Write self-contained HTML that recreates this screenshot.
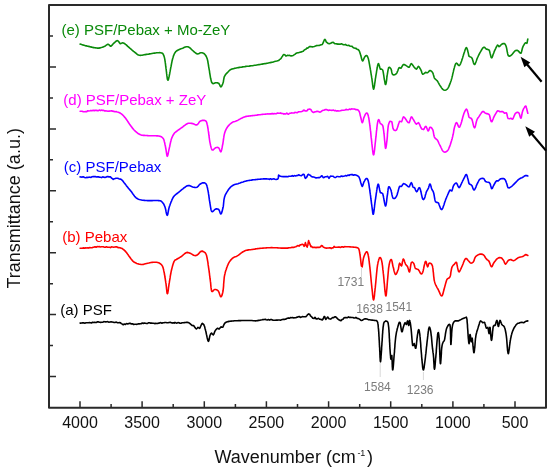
<!DOCTYPE html>
<html><head><meta charset="utf-8"><style>html,body{margin:0;padding:0;background:#fff;width:550px;height:471px;overflow:hidden}</style></head>
<body><svg width="550" height="471" viewBox="0 0 550 471" style="display:block">
<rect x="0" y="0" width="550" height="471" fill="#fff"/>
<rect x="49" y="5" width="497" height="402.8" fill="none" stroke="#2a2a2a" stroke-width="2" stroke-linejoin="round"/>
<path d="M80.0,407.5V401.2 M142.1,407.5V401.2 M204.3,407.5V401.2 M266.4,407.5V401.2 M328.6,407.5V401.2 M390.7,407.5V401.2 M452.9,407.5V401.2 M515.0,407.5V401.2 M111.1,407.5V404 M173.2,407.5V404 M235.4,407.5V404 M297.5,407.5V404 M359.7,407.5V404 M421.8,407.5V404 M483.9,407.5V404 M49,376.5H56 M49,345.6H53 M49,314.6H56 M49,283.7H53 M49,252.7H56 M49,221.7H53 M49,190.8H56 M49,159.8H53 M49,128.9H56 M49,97.9H53 M49,66.9H56 M49,36.0H53" stroke="#2a2a2a" stroke-width="1.5" fill="none"/>
<text transform="translate(80.0,428.3) scale(1,1)" font-family='"Liberation Sans", Arial, sans-serif' font-size="16" text-anchor="middle" fill="#111">4000</text>
<text transform="translate(142.1,428.3) scale(1,1)" font-family='"Liberation Sans", Arial, sans-serif' font-size="16" text-anchor="middle" fill="#111">3500</text>
<text transform="translate(204.3,428.3) scale(1,1)" font-family='"Liberation Sans", Arial, sans-serif' font-size="16" text-anchor="middle" fill="#111">3000</text>
<text transform="translate(266.4,428.3) scale(1,1)" font-family='"Liberation Sans", Arial, sans-serif' font-size="16" text-anchor="middle" fill="#111">2500</text>
<text transform="translate(328.6,428.3) scale(1,1)" font-family='"Liberation Sans", Arial, sans-serif' font-size="16" text-anchor="middle" fill="#111">2000</text>
<text transform="translate(390.7,428.3) scale(1,1)" font-family='"Liberation Sans", Arial, sans-serif' font-size="16" text-anchor="middle" fill="#111">1500</text>
<text transform="translate(452.9,428.3) scale(1,1)" font-family='"Liberation Sans", Arial, sans-serif' font-size="16" text-anchor="middle" fill="#111">1000</text>
<text transform="translate(515.0,428.3) scale(1,1)" font-family='"Liberation Sans", Arial, sans-serif' font-size="16" text-anchor="middle" fill="#111">500</text>
<text transform="translate(214.5,463.1)" font-family='"Liberation Sans", Arial, sans-serif' font-size="18" fill="#111">Wavenumber (cm<tspan dx="1.5" dy="-7.5" font-size="9">-1</tspan><tspan dx="1.5" dy="7.5">)</tspan></text>
<text transform="translate(20,288.5) rotate(-90)" x="0" y="0" font-family='"Liberation Sans", Arial, sans-serif' font-size="18" fill="#111">Transmittance (a.u.)</text>
<polyline points="80.1,323.1 80.7,323.1 81.6,323.0 82.5,322.9 83.6,322.8 84.8,323.2 86.0,322.8 87.3,322.8 88.4,322.8 89.5,322.6 90.5,322.8 91.5,323.0 92.6,322.2 93.6,322.5 94.6,322.2 95.6,322.5 96.6,322.4 97.6,321.8 98.6,321.9 99.6,322.2 100.7,322.4 101.7,322.3 102.7,322.3 103.8,321.6 104.8,321.7 105.8,321.9 106.8,321.7 107.7,321.6 108.9,322.2 110.0,322.0 111.1,321.8 112.2,322.0 113.2,322.2 114.1,322.4 115.0,322.5 116.3,322.1 117.5,322.8 118.5,322.7 119.5,322.5 120.5,322.8 121.4,323.6 122.2,324.0 123.2,324.8 124.3,324.0 125.5,324.4 126.6,323.5 127.7,323.9 129.0,323.4 130.1,323.2 131.4,324.0 132.5,323.7 133.6,324.5 134.7,324.2 135.9,324.3 137.0,324.4 138.0,323.9 139.2,323.9 140.5,323.8 141.4,323.6 142.3,323.0 143.3,323.5 144.3,323.0 145.4,323.2 146.5,323.5 147.7,323.4 148.6,322.7 149.6,322.7 150.6,323.3 151.6,323.0 152.7,323.3 153.7,323.2 154.7,323.6 155.8,323.4 156.8,323.5 157.8,323.4 158.8,323.1 159.8,322.9 160.8,322.6 161.9,323.2 162.9,322.8 163.9,322.8 164.9,322.5 165.9,322.5 166.9,322.7 168.0,322.8 169.1,322.5 170.2,322.3 171.3,322.7 172.3,323.1 173.3,322.7 174.2,323.1 175.0,322.4 176.3,323.1 177.1,323.0 177.9,322.6 179.1,322.8 180.0,323.3 181.0,323.2 182.1,322.8 183.3,322.7 184.4,322.6 185.5,322.5 186.5,322.4 187.3,322.4 189.0,322.8 190.0,323.6 191.1,324.6 192.0,325.4 193.6,325.6 194.8,327.2 195.6,328.3 196.4,329.0 197.2,328.2 198.0,327.3 199.6,328.4 200.1,327.7 200.5,326.6 201.0,325.5 201.7,324.1 202.4,323.3 203.8,324.6 204.1,325.4 204.5,326.3 204.8,327.4 205.1,328.7 205.5,330.0 205.7,330.9 206.0,332.0 206.2,333.1 206.4,334.2 206.7,335.4 206.9,336.4 207.1,337.4 207.3,338.2 207.7,339.9 208.1,341.1 208.5,341.3 208.8,340.7 209.1,339.5 209.4,338.0 209.7,336.6 210.0,335.5 210.7,333.8 211.5,333.1 212.4,334.1 213.3,334.9 213.7,334.3 214.2,333.2 214.6,331.9 215.1,330.9 215.9,329.8 216.8,328.8 217.6,328.2 219.1,329.1 220.0,328.0 220.9,326.9 222.7,327.3 223.1,326.6 223.5,325.6 224.0,324.5 224.5,323.6 225.2,322.8 226.1,322.3 227.3,321.8 228.1,321.6 229.0,321.4 230.1,321.3 231.2,321.1 232.3,321.0 233.6,320.9 234.5,320.8 235.4,320.8 236.4,320.7 237.5,320.7 238.5,320.6 239.6,320.6 240.6,320.6 241.7,320.5 242.7,320.5 243.7,320.5 244.8,320.5 245.9,320.5 247.0,320.5 248.1,320.5 249.2,320.5 250.1,320.5 251.0,320.5 251.8,320.5 253.4,320.7 254.3,320.8 255.5,320.9 256.5,320.8 257.6,320.6 258.8,320.4 259.9,320.2 260.9,320.0 262.0,319.8 262.9,319.6 264.5,319.5 265.3,319.2 266.2,319.7 267.3,320.0 268.4,319.5 269.5,320.1 270.7,319.6 271.9,319.6 273.0,320.2 274.1,320.3 275.2,320.2 276.2,320.0 277.3,320.1 278.4,320.0 279.4,320.0 280.5,320.2 281.4,319.8 282.4,319.5 283.2,319.3 284.5,319.4 285.4,319.3 286.4,318.7 287.3,318.3 288.6,317.9 289.5,318.3 290.5,317.5 291.5,317.8 292.6,317.5 293.8,317.9 294.9,317.8 295.9,317.7 296.9,317.1 297.7,317.1 299.2,316.5 300.4,317.4 301.4,317.1 302.3,316.6 303.7,316.7 305.0,316.7 305.9,316.6 306.8,315.7 307.7,314.6 308.6,313.9 309.6,314.2 310.5,315.9 311.4,316.6 312.6,318.1 314.1,318.4 315.0,317.3 316.2,318.9 317.4,318.9 318.5,318.2 319.5,319.2 321.1,319.4 322.3,319.9 323.0,319.1 323.5,318.0 324.1,316.6 324.7,316.5 325.3,318.6 325.9,319.4 326.7,318.3 327.7,317.0 329.0,318.7 330.5,319.1 331.5,318.5 332.6,317.5 333.7,317.6 334.7,316.8 335.7,316.9 336.7,317.8 337.7,318.9 338.9,319.8 339.9,320.4 341.0,320.6 342.0,319.6 343.0,319.3 344.1,317.8 345.1,317.6 346.1,317.6 347.2,317.7 348.6,316.9 349.5,317.5 350.6,317.4 351.7,317.5 352.9,317.5 354.0,318.0 355.0,318.0 355.9,317.4 357.4,318.5 358.6,318.6 359.5,319.1 360.5,320.0 361.4,320.5 362.3,320.2 363.3,319.6 364.1,319.1 365.5,318.7 366.8,319.1 368.2,319.6 369.5,319.8 370.9,320.0 372.1,320.1 373.3,320.2 374.5,320.4 375.6,320.5 376.5,320.6 377.3,321.5 377.6,322.2 377.8,322.9 377.9,323.7 378.1,324.8 378.2,326.0 378.3,327.4 378.5,329.1 378.6,329.9 378.6,330.7 378.7,331.6 378.8,332.5 378.8,333.5 378.9,334.5 378.9,335.6 379.0,336.7 379.1,337.8 379.1,338.9 379.2,340.0 379.3,341.1 379.3,342.2 379.4,343.3 379.4,344.4 379.5,345.4 379.5,346.4 379.6,347.3 379.7,348.5 379.7,349.8 379.8,351.2 379.9,352.6 379.9,354.0 380.0,355.4 380.0,356.7 380.1,357.9 380.2,359.0 380.2,360.0 380.3,360.8 380.4,361.4 380.4,361.7 380.5,361.8 380.6,361.6 380.6,361.2 380.7,360.7 380.8,359.9 380.9,359.0 381.0,358.0 381.0,356.9 381.1,355.7 381.2,354.4 381.3,353.1 381.4,351.8 381.5,350.4 381.6,349.1 381.6,347.8 381.7,346.6 381.8,345.5 381.9,344.5 381.9,343.5 382.0,342.4 382.1,341.3 382.2,340.2 382.2,339.1 382.3,338.0 382.4,336.8 382.4,335.7 382.5,334.6 382.6,333.5 382.7,332.5 382.7,331.5 382.8,330.5 382.9,329.6 383.0,328.8 383.0,328.0 383.1,327.3 383.4,325.3 383.6,323.9 383.8,323.0 384.1,322.4 384.5,321.8 385.9,320.9 387.3,321.5 387.7,322.0 388.0,322.6 388.2,323.5 388.4,325.0 388.7,327.3 388.8,328.0 388.8,328.8 388.9,329.7 389.0,330.6 389.0,331.6 389.1,332.7 389.2,333.8 389.2,335.0 389.3,336.1 389.3,337.3 389.4,338.5 389.5,339.7 389.5,340.9 389.6,342.1 389.7,343.3 389.7,344.4 389.8,345.4 389.8,346.5 389.9,347.4 389.9,348.3 390.0,349.1 390.1,350.6 390.2,352.1 390.3,353.4 390.4,354.6 390.5,355.7 390.6,356.6 390.6,357.5 390.7,358.2 390.8,358.7 390.9,359.1 391.2,358.2 391.5,355.9 391.8,355.5 391.9,356.0 391.9,356.9 392.0,358.0 392.0,359.2 392.1,360.6 392.2,362.0 392.2,363.5 392.3,364.9 392.3,366.3 392.4,367.5 392.5,368.6 392.5,369.3 392.6,369.8 392.7,370.0 392.8,369.8 392.9,369.5 393.0,368.9 393.1,368.1 393.2,367.2 393.3,366.1 393.4,364.9 393.5,363.6 393.6,362.3 393.7,361.0 393.8,359.6 393.9,358.2 394.0,356.9 394.1,355.7 394.2,354.5 394.3,353.5 394.4,352.6 394.5,351.6 394.5,350.5 394.6,349.5 394.7,348.4 394.8,347.3 394.9,346.2 394.9,345.2 395.0,344.1 395.1,343.0 395.2,342.0 395.3,341.0 395.4,340.0 395.5,339.0 395.6,338.1 395.7,337.2 395.8,336.4 396.0,335.1 396.2,333.9 396.4,332.7 396.6,331.6 396.9,330.5 397.1,329.5 397.3,328.6 397.6,327.7 397.8,326.9 398.0,326.2 398.2,325.5 398.8,323.4 399.4,322.2 400.0,322.4 400.2,323.0 400.4,323.9 400.6,325.1 400.8,326.5 401.0,327.9 401.2,329.2 401.4,330.4 401.6,331.3 401.8,331.8 402.2,331.7 402.6,330.4 402.9,328.8 403.3,327.3 403.7,326.0 404.2,324.6 404.7,323.4 405.1,322.7 405.8,323.5 406.4,324.5 406.8,323.4 407.2,321.7 407.6,320.9 407.9,321.7 408.2,323.3 408.4,324.8 408.7,325.5 408.9,324.9 409.1,323.6 409.2,322.0 409.4,320.8 409.6,320.4 409.8,320.7 409.9,321.2 410.1,321.9 410.3,322.9 410.5,324.2 410.7,325.6 410.9,327.3 411.0,328.1 411.1,328.9 411.2,329.9 411.3,331.0 411.4,332.1 411.5,333.3 411.6,334.5 411.7,335.7 411.8,336.9 411.9,338.2 412.0,339.4 412.1,340.5 412.2,341.6 412.3,342.6 412.4,343.5 412.5,344.3 412.6,345.0 412.7,345.5 413.5,345.4 414.2,343.6 414.6,344.7 415.0,346.5 415.4,348.1 415.8,348.2 415.9,347.7 416.1,347.0 416.2,346.0 416.4,344.9 416.5,343.7 416.6,342.3 416.8,341.0 416.9,339.7 417.0,338.5 417.2,337.3 417.3,336.4 417.5,334.8 417.8,333.3 418.0,331.8 418.2,330.7 418.5,329.9 418.7,329.6 418.9,329.8 419.1,330.3 419.3,331.2 419.5,332.5 419.8,334.2 420.0,336.4 420.1,337.1 420.2,337.9 420.2,338.8 420.3,339.8 420.4,340.8 420.5,341.8 420.6,342.9 420.7,344.1 420.8,345.2 420.8,346.4 420.9,347.6 421.0,348.8 421.1,350.0 421.2,351.1 421.3,352.3 421.4,353.4 421.5,354.5 421.6,355.5 421.6,356.5 421.7,357.4 421.8,358.2 421.9,359.7 422.1,361.2 422.2,362.7 422.4,364.1 422.5,365.5 422.6,366.7 422.7,367.7 422.9,368.6 423.0,369.3 423.2,369.8 423.3,370.0 423.5,369.9 423.6,369.6 423.8,368.9 424.0,368.0 424.2,367.0 424.3,365.8 424.5,364.4 424.7,363.0 424.9,361.5 425.1,360.0 425.2,359.2 425.3,358.4 425.4,357.5 425.5,356.5 425.6,355.5 425.7,354.5 425.9,353.4 426.0,352.4 426.1,351.3 426.2,350.2 426.3,349.1 426.4,348.0 426.5,346.9 426.7,345.8 426.8,344.7 426.9,343.7 427.0,342.7 427.1,341.7 427.2,340.8 427.3,340.0 427.5,338.6 427.6,337.3 427.8,335.9 427.9,334.6 428.1,333.3 428.2,332.1 428.4,330.9 428.5,329.9 428.7,329.0 428.8,328.3 429.0,327.7 429.1,327.3 429.5,327.1 429.8,327.7 430.2,329.0 430.6,330.7 430.9,332.7 431.0,333.5 431.1,334.4 431.2,335.3 431.4,336.4 431.5,337.5 431.6,338.6 431.7,339.8 431.8,340.9 431.9,342.1 432.0,343.3 432.1,344.4 432.2,345.4 432.3,346.4 432.4,347.3 432.5,348.5 432.7,349.6 432.8,350.6 432.9,351.5 433.0,352.4 433.2,353.3 433.3,354.2 433.4,355.3 433.5,356.4 433.6,357.4 433.7,358.6 433.7,360.0 433.8,361.4 433.9,362.8 434.0,364.2 434.1,365.6 434.1,366.8 434.2,367.8 434.3,368.5 434.4,369.0 434.5,369.1 434.6,368.9 434.7,368.5 434.8,367.9 434.9,367.1 435.0,366.2 435.1,365.1 435.2,363.9 435.3,362.6 435.4,361.3 435.5,359.9 435.6,358.5 435.8,357.2 435.9,355.8 436.0,354.5 436.1,353.6 436.2,352.6 436.3,351.5 436.3,350.3 436.4,349.1 436.5,347.9 436.6,346.6 436.7,345.4 436.8,344.1 436.9,342.9 437.0,341.6 437.1,340.4 437.2,339.3 437.3,338.2 437.4,337.2 437.5,336.2 437.6,335.4 437.6,334.7 437.7,334.1 437.8,333.6 438.2,332.5 438.5,333.0 438.8,335.0 439.1,338.2 439.2,338.9 439.2,339.7 439.3,340.5 439.3,341.5 439.4,342.6 439.4,343.8 439.5,345.0 439.5,346.2 439.6,347.5 439.6,348.9 439.7,350.2 439.7,351.5 439.8,352.9 439.8,354.2 439.9,355.4 439.9,356.7 440.0,357.8 440.0,358.9 440.1,359.9 440.1,360.9 440.2,361.7 440.2,362.4 440.3,362.9 440.3,363.3 440.4,363.6 440.5,363.7 440.6,363.5 440.7,363.0 440.7,362.2 440.8,361.2 440.9,360.1 441.0,358.8 441.1,357.4 441.2,355.9 441.3,354.5 441.4,353.0 441.4,351.6 441.5,350.3 441.6,349.1 441.7,348.1 441.8,347.3 442.1,345.4 442.4,344.1 442.7,343.2 443.0,342.5 443.3,341.8 443.9,341.2 444.5,340.0 444.6,339.3 444.8,338.5 444.9,337.5 445.1,336.4 445.3,335.3 445.4,334.1 445.6,333.0 445.8,331.9 446.0,330.8 446.2,329.9 446.4,329.1 446.9,327.7 447.5,326.5 448.1,325.5 448.6,324.8 449.1,324.5 449.6,324.4 450.0,325.0 450.3,327.3 450.3,328.0 450.4,328.9 450.4,329.9 450.5,331.1 450.5,332.4 450.5,333.7 450.6,335.1 450.6,336.5 450.6,337.8 450.6,339.2 450.7,340.4 450.7,341.5 450.7,342.5 450.8,343.3 450.8,344.0 450.8,344.4 450.9,344.5 451.0,344.4 451.0,344.0 451.1,343.4 451.1,342.6 451.2,341.6 451.3,340.5 451.3,339.3 451.4,338.0 451.5,336.7 451.6,335.3 451.6,333.9 451.7,332.6 451.8,331.3 451.9,330.1 452.0,329.0 452.1,328.1 452.2,327.3 452.5,325.6 452.8,324.3 453.2,323.2 453.6,322.5 454.0,321.8 454.5,321.3 455.6,320.8 456.9,320.9 458.2,320.9 459.1,320.5 460.0,320.1 460.9,319.6 461.8,319.1 463.1,318.5 464.4,317.9 465.5,317.6 466.4,317.2 466.9,319.1 467.0,319.7 467.1,320.5 467.1,321.3 467.2,322.3 467.3,323.3 467.4,324.4 467.5,325.6 467.5,326.8 467.6,328.0 467.7,329.2 467.8,330.4 467.9,331.6 467.9,332.7 468.0,333.7 468.1,334.7 468.1,335.6 468.2,336.4 468.3,338.1 468.5,339.7 468.6,341.0 468.7,342.2 468.9,343.0 469.0,343.5 469.1,343.6 469.2,343.2 469.3,342.4 469.4,341.2 469.5,339.8 469.6,338.3 469.7,336.9 469.8,335.7 469.9,334.9 470.0,334.5 470.2,334.8 470.4,335.7 470.6,337.1 470.7,338.6 470.9,340.0 471.1,341.2 471.3,341.8 471.6,340.7 471.8,338.5 472.2,338.2 472.3,338.8 472.4,339.6 472.5,340.7 472.6,341.9 472.8,343.3 472.9,344.8 473.0,346.2 473.2,347.7 473.3,349.1 473.5,350.3 473.6,351.3 473.7,352.1 473.9,352.6 474.0,352.7 474.1,352.5 474.2,352.1 474.3,351.4 474.4,350.6 474.5,349.6 474.6,348.5 474.8,347.3 474.9,346.0 475.0,344.7 475.1,343.3 475.2,342.0 475.3,340.7 475.4,339.5 475.5,338.3 475.7,337.3 475.8,336.4 476.0,335.1 476.3,333.8 476.6,332.7 476.8,331.7 477.1,330.8 477.4,329.9 477.7,329.0 477.9,328.2 478.2,327.3 478.6,326.0 479.0,324.7 479.4,323.4 479.7,322.3 480.1,321.5 480.5,320.9 481.6,321.4 482.7,322.7 484.5,322.2 484.8,322.9 485.1,324.0 485.5,325.2 485.8,326.5 486.1,327.5 486.4,328.2 487.8,327.3 488.0,328.1 488.3,329.3 488.5,330.8 488.7,332.2 488.9,333.2 489.1,333.6 489.3,333.1 489.4,331.7 489.5,330.0 489.7,328.4 489.8,327.4 490.0,327.3 490.1,327.7 490.2,328.5 490.3,329.6 490.4,330.8 490.5,332.2 490.6,333.6 490.8,335.1 490.9,336.5 491.0,337.7 491.1,338.8 491.2,339.7 491.4,340.2 491.5,340.4 491.6,340.2 491.7,339.7 491.9,339.0 492.0,338.0 492.1,336.9 492.3,335.6 492.4,334.3 492.5,332.9 492.6,331.5 492.8,330.2 492.9,329.0 493.0,327.9 493.2,327.1 493.3,326.4 494.2,325.4 495.1,325.5 495.5,324.6 495.8,323.2 496.2,321.8 496.6,320.8 496.9,320.4 497.2,320.9 497.4,322.0 497.7,323.5 497.9,324.9 498.1,326.0 498.4,326.4 498.7,326.0 498.9,324.9 499.2,323.5 499.4,322.1 499.7,321.0 500.0,320.4 500.4,320.7 500.8,321.9 501.3,323.3 501.8,324.5 502.7,325.3 503.6,325.9 504.5,327.3 504.7,328.0 505.0,328.7 505.2,329.6 505.4,330.5 505.6,331.5 505.8,332.5 506.0,333.7 506.2,335.0 506.4,336.4 506.5,337.3 506.6,338.2 506.7,339.3 506.8,340.5 506.9,341.8 507.0,343.1 507.1,344.4 507.2,345.8 507.3,347.1 507.4,348.3 507.5,349.5 507.6,350.6 507.8,351.5 507.9,352.3 508.0,352.9 508.1,353.4 508.2,353.6 508.4,353.6 508.5,353.2 508.7,352.5 508.8,351.5 509.0,350.4 509.2,349.1 509.4,347.7 509.5,346.3 509.7,344.9 509.9,343.5 510.1,342.2 510.2,341.0 510.4,340.0 510.6,338.8 510.9,337.6 511.1,336.5 511.3,335.5 511.6,334.5 511.8,333.6 512.1,332.7 512.4,331.8 512.7,330.9 513.2,329.8 513.7,328.7 514.2,327.7 514.8,326.8 515.4,325.9 515.9,325.1 516.4,324.5 517.4,323.6 518.2,323.3 519.1,323.1 520.5,322.5 521.8,322.2 523.6,322.7 524.5,322.2 525.5,321.5 526.8,321.1 527.8,320.9" fill="none" stroke="#000" stroke-width="1.6" stroke-linejoin="round" stroke-linecap="round"/>
<polyline points="80.1,248.3 80.9,248.3 81.9,248.3 83.2,247.9 84.6,248.1 85.9,247.9 86.8,248.0 87.8,247.7 88.8,248.1 89.9,247.6 90.9,247.7 92.0,247.7 93.2,247.2 94.1,247.1 95.1,246.7 96.1,247.3 97.1,246.6 98.2,246.8 99.2,246.6 100.2,247.0 101.3,246.8 102.3,246.8 103.3,246.8 104.4,247.2 105.4,247.3 106.4,246.8 107.5,247.3 108.5,247.3 109.5,247.3 110.5,247.6 111.4,246.9 112.6,247.0 113.7,247.2 114.8,247.0 115.9,246.9 116.9,246.8 117.8,247.5 118.6,247.6 120.1,247.8 121.2,248.2 122.3,248.6 123.2,249.3 124.1,250.0 125.0,250.9 125.9,251.9 126.5,252.6 127.1,253.4 127.7,254.3 128.3,255.1 128.9,256.0 129.5,256.8 130.2,257.8 130.9,258.8 131.7,259.7 132.4,260.6 133.2,261.4 134.0,262.0 134.9,262.6 135.9,263.0 136.8,263.4 137.7,263.7 138.8,264.1 139.9,264.3 141.1,264.5 142.3,264.5 143.3,264.4 144.4,264.1 145.5,263.8 146.6,263.5 147.7,263.2 148.8,263.0 149.9,262.7 151.0,262.5 152.1,262.4 153.2,262.3 154.3,262.3 155.4,262.3 156.6,262.3 157.6,262.5 158.6,262.8 159.7,263.3 160.7,264.0 161.5,264.8 162.3,265.9 162.7,266.7 163.0,267.6 163.3,268.6 163.6,269.7 163.8,270.9 164.1,272.3 164.3,273.1 164.4,274.0 164.6,275.0 164.8,275.9 164.9,277.0 165.1,278.0 165.3,279.1 165.4,280.1 165.6,281.2 165.7,282.2 165.9,283.2 166.1,284.4 166.2,285.7 166.4,287.0 166.5,288.4 166.7,289.8 166.8,291.0 166.9,292.1 167.1,293.0 167.2,293.5 167.4,293.7 167.6,293.5 167.7,293.0 167.9,292.2 168.1,291.1 168.3,289.9 168.4,288.6 168.6,287.2 168.8,285.8 169.0,284.4 169.2,283.2 169.4,282.2 169.5,281.2 169.7,280.1 169.9,279.0 170.1,277.9 170.2,276.8 170.4,275.6 170.6,274.5 170.8,273.5 171.0,272.4 171.2,271.4 171.4,270.5 171.7,269.3 172.0,268.1 172.3,266.9 172.6,265.8 172.9,264.8 173.2,263.8 173.5,262.9 173.8,262.1 174.1,261.4 175.1,260.0 176.4,259.5 177.1,259.0 178.0,258.5 178.9,258.0 179.9,257.4 180.9,256.8 181.8,256.1 182.7,255.3 183.7,254.5 184.7,253.7 185.6,253.0 186.4,252.6 187.7,252.4 188.8,252.7 190.0,253.2 190.9,253.6 191.8,254.1 192.8,254.7 193.7,255.2 194.5,255.5 196.0,255.6 197.3,255.0 198.0,254.4 198.7,253.6 199.5,252.7 200.2,251.9 200.9,251.4 202.3,251.1 203.6,251.7 204.3,252.1 205.0,252.6 205.7,253.5 206.4,255.0 206.6,255.7 206.8,256.6 207.0,257.5 207.2,258.5 207.4,259.6 207.6,260.8 207.8,261.9 208.0,263.1 208.1,264.4 208.3,265.6 208.5,266.8 208.6,267.8 208.8,268.8 208.9,269.8 209.1,270.9 209.2,272.0 209.4,273.1 209.5,274.2 209.6,275.3 209.8,276.4 209.9,277.5 210.0,278.5 210.2,279.5 210.3,280.5 210.4,281.4 210.6,282.6 210.7,283.9 210.8,285.1 210.9,286.3 211.0,287.4 211.2,288.5 211.3,289.4 211.4,290.2 211.6,290.9 211.8,291.4 212.6,291.5 213.5,290.3 214.5,289.5 215.7,289.5 217.0,289.9 218.2,290.8 218.7,291.7 219.2,292.9 219.6,294.3 220.1,295.5 220.5,296.5 220.9,296.8 221.3,296.6 221.7,295.9 222.1,294.9 222.4,293.7 222.8,292.2 223.1,290.5 223.2,289.7 223.3,288.8 223.4,287.9 223.5,286.9 223.6,285.8 223.6,284.7 223.7,283.5 223.8,282.4 223.9,281.2 224.0,280.1 224.1,279.0 224.2,277.9 224.3,276.9 224.5,275.9 224.7,274.8 225.0,273.7 225.2,272.6 225.5,271.5 225.8,270.5 226.2,269.5 226.5,268.5 226.8,267.5 227.2,266.6 227.5,265.7 227.9,264.9 228.2,264.1 228.8,262.9 229.4,261.9 230.1,260.9 230.7,260.1 231.4,259.4 232.0,258.7 232.7,258.1 233.6,257.5 234.4,257.1 235.3,256.8 236.2,256.5 237.3,255.9 238.1,255.4 238.9,254.8 239.8,254.1 240.7,253.4 241.7,252.7 242.6,252.0 243.6,251.5 244.5,251.0 245.5,250.6 246.5,250.3 247.5,250.1 248.5,249.9 249.6,249.8 250.7,249.7 251.8,249.5 252.7,249.4 253.7,249.2 254.7,249.1 255.7,248.9 256.8,248.8 257.8,248.6 258.8,248.5 259.9,248.4 260.9,248.3 261.9,248.2 263.0,248.1 264.1,248.0 265.2,248.0 266.3,247.9 267.3,247.8 268.3,247.8 269.2,247.7 270.0,247.7 271.3,247.6 272.1,247.6 272.8,247.7 274.1,247.7 274.9,247.7 275.8,247.8 276.8,247.8 277.8,247.9 278.9,248.0 280.0,248.0 281.1,248.1 282.2,248.1 283.2,248.1 284.2,248.1 285.3,248.1 286.4,248.1 287.4,248.1 288.5,247.9 289.5,247.8 290.5,247.8 291.5,247.4 292.3,247.4 293.6,247.4 294.8,247.0 295.8,246.8 296.7,246.3 297.7,245.5 299.0,246.1 300.2,244.9 301.4,244.6 302.3,244.3 303.4,244.8 304.1,246.3 304.8,245.0 305.4,242.6 306.0,244.9 306.6,246.4 307.2,247.1 307.5,245.5 307.8,245.4 308.1,243.4 308.3,241.9 308.6,240.6 309.1,242.0 309.5,243.0 310.1,244.6 310.8,246.6 311.7,246.4 312.6,247.5 313.6,247.4 314.7,247.3 315.9,247.6 317.1,247.4 318.3,247.2 319.5,247.4 320.6,246.8 321.5,245.5 322.3,245.7 322.8,246.5 323.5,247.3 324.3,247.5 325.4,248.0 326.6,248.1 327.7,248.0 328.9,247.9 330.1,247.7 331.3,248.5 332.3,247.9 333.3,247.8 334.1,246.4 335.0,247.3 336.0,247.2 337.7,247.1 338.5,247.0 339.4,247.1 340.3,247.4 341.4,246.9 342.5,246.7 343.6,247.2 344.7,246.6 345.8,246.8 346.8,246.8 347.8,246.8 348.9,246.8 350.1,246.9 351.2,247.0 352.3,247.0 353.3,247.1 354.3,247.2 355.2,247.3 355.9,247.4 357.7,247.7 358.6,248.6 358.9,249.3 359.2,250.2 359.4,251.2 359.6,252.5 359.9,254.1 360.0,255.0 360.2,256.0 360.3,257.2 360.5,258.4 360.6,259.7 360.8,260.9 360.9,262.1 361.0,263.3 361.2,264.3 361.3,265.2 361.4,265.9 362.2,266.8 362.3,266.2 362.4,265.4 362.6,264.4 362.7,263.3 362.8,262.1 363.0,260.9 363.2,259.7 363.4,258.6 363.6,257.7 364.0,256.4 364.5,255.2 365.0,254.0 365.5,253.1 366.0,252.3 366.4,251.9 367.1,251.9 367.6,252.9 368.2,255.0 368.3,255.7 368.5,256.5 368.6,257.3 368.8,258.3 368.9,259.3 369.0,260.3 369.2,261.4 369.3,262.6 369.4,263.7 369.6,264.9 369.7,266.1 369.9,267.4 370.0,268.6 370.1,269.5 370.2,270.4 370.3,271.4 370.4,272.4 370.5,273.5 370.6,274.5 370.7,275.6 370.8,276.7 370.9,277.7 371.0,278.8 371.1,279.9 371.2,280.9 371.3,282.0 371.4,283.0 371.5,284.0 371.6,285.0 371.7,285.9 371.8,286.8 371.9,288.1 372.1,289.4 372.2,290.7 372.4,292.1 372.5,293.5 372.6,294.8 372.8,296.0 372.9,297.1 373.0,298.1 373.2,298.9 373.3,299.5 373.5,299.8 373.6,299.9 373.7,299.7 373.8,299.3 374.0,298.8 374.1,298.0 374.2,297.1 374.4,296.1 374.5,295.0 374.6,293.8 374.7,292.5 374.9,291.2 375.0,289.9 375.1,288.6 375.3,287.4 375.4,286.1 375.5,285.0 375.6,284.1 375.7,283.1 375.8,282.1 375.9,281.0 376.0,279.9 376.1,278.8 376.2,277.7 376.3,276.6 376.4,275.5 376.5,274.4 376.6,273.4 376.7,272.3 376.8,271.3 376.9,270.3 377.0,269.3 377.1,268.4 377.2,267.6 377.3,266.8 377.5,265.3 377.8,263.9 378.0,262.6 378.3,261.4 378.6,260.4 378.8,259.4 379.1,258.7 379.3,258.1 379.6,257.7 380.2,257.5 380.7,258.1 381.3,259.4 381.8,261.4 381.9,262.1 382.1,262.9 382.2,263.7 382.3,264.6 382.5,265.6 382.6,266.6 382.7,267.6 382.8,268.7 382.9,269.9 383.1,271.0 383.2,272.2 383.3,273.4 383.5,274.7 383.6,275.9 383.7,276.8 383.8,277.8 383.9,279.0 384.0,280.1 384.1,281.4 384.2,282.6 384.4,283.9 384.5,285.3 384.6,286.6 384.7,287.8 384.8,289.1 384.9,290.3 385.0,291.4 385.2,292.4 385.3,293.3 385.4,294.1 385.5,294.8 385.6,295.3 385.7,295.7 385.8,295.9 385.9,295.9 386.0,295.6 386.2,295.1 386.3,294.3 386.4,293.4 386.5,292.3 386.6,291.1 386.7,289.9 386.9,288.5 387.0,287.1 387.1,285.7 387.2,284.3 387.3,283.0 387.4,281.7 387.5,280.5 387.6,279.5 387.7,278.4 387.8,277.3 387.9,276.1 388.0,275.0 388.1,273.8 388.2,272.7 388.3,271.6 388.4,270.5 388.5,269.4 388.6,268.4 388.7,267.5 388.9,266.6 389.0,265.8 389.1,265.0 389.5,263.1 389.9,261.5 390.4,260.3 390.9,259.6 391.3,259.5 391.6,259.9 391.8,260.6 392.1,261.7 392.3,263.0 392.6,264.3 392.8,265.6 393.1,266.8 393.4,267.8 393.7,269.0 393.9,270.2 394.2,271.4 394.6,272.5 394.9,273.5 395.2,274.1 395.5,274.5 396.0,274.3 396.6,273.5 397.2,272.2 397.7,270.8 398.2,269.5 398.5,268.4 398.7,267.2 398.9,265.9 399.1,264.7 399.4,263.7 399.6,263.2 400.2,263.8 400.9,265.4 401.5,265.9 401.8,265.3 402.0,264.3 402.3,263.0 402.5,261.6 402.8,260.4 403.0,259.4 403.3,259.0 403.7,259.3 404.2,260.3 404.6,261.7 405.1,263.0 405.5,264.1 406.2,265.1 406.9,265.8 407.6,266.8 408.0,267.9 408.4,269.4 408.8,270.8 409.1,271.8 409.5,271.9 409.7,271.4 409.9,270.6 410.1,269.5 410.3,268.2 410.5,266.8 410.7,265.5 410.9,264.3 411.1,263.3 411.3,262.6 412.4,262.0 413.6,263.2 414.0,264.0 414.4,265.2 414.7,266.5 415.1,267.7 415.5,268.6 416.8,269.1 418.2,269.5 418.9,270.4 419.6,271.7 420.3,273.0 420.9,273.7 421.8,273.9 422.7,272.3 422.9,271.6 423.2,270.7 423.4,269.6 423.7,268.4 423.9,267.1 424.2,265.8 424.5,264.6 424.8,263.5 425.0,262.5 425.3,261.8 425.5,261.4 426.0,261.6 426.4,262.8 426.8,264.5 427.2,266.0 427.6,266.8 428.1,266.0 428.5,264.3 429.1,263.2 429.8,263.1 430.7,263.4 431.6,264.2 432.4,265.9 432.6,266.6 432.7,267.4 432.9,268.3 433.0,269.3 433.1,270.4 433.2,271.5 433.4,272.7 433.5,273.9 433.6,275.1 433.7,276.3 433.9,277.5 434.0,278.6 434.1,279.6 434.3,280.6 434.5,281.4 434.9,282.8 435.3,284.0 435.8,285.1 436.3,286.0 436.7,286.9 437.2,287.8 437.7,288.6 438.2,289.5 438.7,290.6 439.3,291.9 439.8,293.1 440.3,294.3 440.8,295.2 441.3,295.8 441.8,295.9 442.2,295.6 442.5,294.9 442.9,293.9 443.2,292.7 443.5,291.4 443.9,290.1 444.2,288.8 444.5,287.7 444.8,286.6 445.1,285.5 445.4,284.4 445.7,283.3 446.0,282.2 446.3,281.2 446.6,280.3 446.9,279.5 447.7,278.6 448.5,278.2 449.3,277.8 450.0,276.8 450.3,276.0 450.5,275.1 450.7,274.0 450.8,272.9 451.0,271.7 451.2,270.6 451.4,269.5 451.6,268.5 451.8,267.7 452.4,266.4 453.1,265.4 453.9,264.7 454.5,264.1 455.5,262.6 456.4,262.3 456.7,262.9 456.9,264.0 457.1,265.3 457.4,266.6 457.6,267.7 457.9,269.1 458.3,270.5 458.6,271.5 459.1,271.9 459.5,271.5 460.0,270.7 460.6,269.5 461.2,268.2 461.8,266.8 462.2,265.9 462.7,264.7 463.2,263.5 463.6,262.3 464.1,261.1 464.6,260.0 465.1,259.2 465.5,258.6 466.5,258.5 467.3,259.4 468.2,260.5 469.1,261.5 470.0,262.6 470.9,263.2 471.8,263.0 472.8,262.4 473.6,261.4 474.1,260.4 474.4,259.2 474.9,257.9 475.5,256.8 476.2,256.1 477.2,255.4 478.1,254.8 479.1,254.4 480.0,254.1 481.3,254.1 482.6,254.4 483.6,255.0 484.4,255.8 484.9,256.8 485.5,257.7 486.4,258.9 487.3,259.9 488.2,260.4 489.1,261.4 489.5,262.4 490.0,263.7 490.5,265.1 491.0,266.2 491.5,266.8 492.0,266.6 492.5,265.6 493.0,264.4 493.6,263.2 494.2,262.3 495.0,261.3 495.8,260.2 496.5,259.3 497.3,258.6 498.5,257.9 499.8,257.6 500.9,257.7 501.9,258.3 502.8,259.4 503.6,260.5 504.1,261.5 504.5,262.7 505.0,263.7 505.5,264.1 506.1,263.6 506.8,262.6 507.5,261.4 508.2,260.5 509.6,259.7 510.9,259.5 512.1,260.3 513.6,260.8 514.4,260.4 515.3,259.8 516.3,259.0 517.3,258.3 518.2,257.7 519.4,257.3 520.6,257.0 521.7,256.8 522.7,256.5 523.8,255.8 524.7,255.1 525.5,254.6 526.8,254.9 527.8,255.5" fill="none" stroke="#ff0000" stroke-width="1.6" stroke-linejoin="round" stroke-linecap="round"/>
<polyline points="80.1,176.9 80.9,177.0 81.9,177.1 83.2,176.8 84.6,177.5 85.9,177.7 86.9,177.2 87.9,177.6 88.9,177.1 90.0,177.2 91.1,177.4 92.1,176.7 93.2,176.5 94.2,176.6 95.3,176.6 96.3,177.0 97.4,176.8 98.4,176.9 99.5,177.1 100.5,177.2 101.6,177.6 102.7,176.8 103.8,177.3 104.9,177.4 105.9,177.2 106.9,176.6 107.7,176.6 109.3,176.9 110.4,176.8 111.4,178.0 112.4,178.7 113.2,179.4 114.0,178.8 115.0,178.6 116.2,178.2 117.7,178.3 118.9,178.8 120.2,179.1 121.4,179.6 122.1,180.2 122.8,180.9 123.4,181.8 124.1,182.7 124.8,183.5 125.5,184.4 126.2,185.4 127.0,186.4 127.7,187.3 128.4,188.2 129.1,189.0 129.9,189.9 130.6,190.8 131.4,191.8 132.0,192.6 132.6,193.5 133.3,194.4 133.9,195.3 134.6,196.2 135.2,196.9 135.9,197.6 136.8,198.3 137.6,198.8 138.5,199.2 139.4,199.5 140.5,199.8 141.4,200.0 142.3,200.2 143.2,200.3 144.2,200.4 145.3,200.5 146.5,200.5 147.7,200.6 148.7,200.6 149.8,200.6 150.9,200.6 152.1,200.6 153.4,200.5 154.6,200.5 155.7,200.5 156.8,200.5 157.8,200.5 158.6,200.6 160.1,200.8 161.0,201.1 161.6,201.5 162.3,202.2 162.9,202.9 163.5,203.7 164.0,204.7 164.5,205.8 165.0,207.0 165.3,208.0 165.6,209.2 165.9,210.6 166.1,211.9 166.4,213.2 166.7,214.3 166.9,215.0 167.2,215.3 167.5,215.1 167.7,214.5 167.9,213.5 168.1,212.3 168.4,211.0 168.6,209.7 168.9,208.4 169.2,207.3 169.5,206.3 169.9,205.2 170.3,204.0 170.7,202.9 171.1,201.8 171.6,200.8 171.9,199.9 172.3,199.1 172.9,197.9 173.4,197.0 174.0,196.2 174.6,195.5 175.4,194.8 176.2,194.2 177.1,193.5 178.2,192.7 178.9,192.1 179.6,191.5 180.4,190.8 181.2,190.1 182.1,189.4 182.9,188.8 183.6,188.2 184.6,187.5 185.5,186.8 186.4,186.2 187.3,185.7 188.2,185.5 189.3,185.6 190.5,186.0 191.6,186.5 192.7,186.9 193.8,187.2 194.9,187.4 195.9,187.5 196.9,187.3 197.7,186.7 198.5,185.9 199.2,184.9 200.0,184.2 201.2,183.5 202.4,182.9 203.6,182.7 204.6,182.9 205.6,183.4 206.4,184.5 206.7,185.2 207.0,186.1 207.2,187.0 207.5,188.1 207.7,189.2 208.0,190.5 208.2,191.8 208.4,192.7 208.5,193.7 208.7,194.8 208.9,195.9 209.0,197.1 209.2,198.2 209.3,199.4 209.5,200.5 209.7,201.6 209.8,202.7 210.0,203.6 210.2,204.8 210.4,206.1 210.6,207.3 210.8,208.4 211.0,209.5 211.2,210.3 211.5,211.0 211.8,211.5 212.6,211.6 213.6,210.8 214.6,209.7 215.5,209.1 216.6,208.9 217.7,209.0 218.7,209.5 219.2,210.3 219.7,211.5 220.1,212.8 220.5,213.8 220.9,214.0 221.2,213.7 221.6,213.0 221.9,212.1 222.2,211.0 222.5,209.8 222.8,208.5 223.1,207.3 223.3,206.4 223.4,205.5 223.5,204.5 223.6,203.4 223.7,202.3 223.8,201.3 223.9,200.2 224.1,199.2 224.3,198.2 224.5,197.3 224.8,196.2 225.2,195.2 225.7,194.2 226.2,193.3 226.7,192.4 227.2,191.6 227.7,190.8 228.2,190.0 228.9,189.1 229.6,188.2 230.3,187.4 231.0,186.7 231.8,186.1 232.7,185.5 233.6,185.0 234.7,184.6 235.7,184.3 236.8,184.0 238.0,183.7 239.1,183.3 240.1,183.0 241.1,182.6 242.1,182.2 243.1,181.9 244.2,181.5 245.3,181.2 246.4,180.9 247.3,180.7 248.3,180.5 249.3,180.4 250.3,180.2 251.4,180.1 252.4,179.9 253.4,179.8 254.5,179.7 255.5,179.6 256.5,179.5 257.6,179.4 258.6,179.3 259.7,179.2 260.7,179.1 261.7,179.0 262.7,179.0 263.6,178.9 264.5,178.9 265.7,178.9 266.7,178.9 267.6,179.0 268.5,179.0 269.5,179.4 270.5,178.7 271.5,179.4 272.7,179.0 273.8,178.8 275.0,179.3 276.1,179.5 277.0,179.2 277.7,179.1 278.4,177.8 278.4,176.3 278.6,175.1 279.9,176.0 281.4,176.5 283.2,176.6 284.2,176.5 285.4,176.6 286.8,176.6 287.8,176.7 288.8,176.2 290.0,176.2 291.1,176.3 292.3,175.6 293.3,176.3 294.5,175.6 295.6,175.9 296.7,175.6 297.7,175.5 298.6,174.8 300.2,175.5 301.4,175.8 302.6,174.6 303.7,174.2 304.2,174.8 304.6,176.3 305.0,177.7 305.4,178.4 306.3,177.7 307.2,176.3 307.8,174.7 308.6,174.3 309.4,174.9 310.4,175.2 311.4,176.6 312.5,176.9 313.7,177.0 315.0,177.4 316.1,177.9 317.3,177.8 318.5,177.5 319.5,177.7 320.6,176.9 321.6,175.8 322.3,176.1 323.2,177.6 324.0,177.5 325.0,176.8 326.4,176.8 327.7,176.3 329.0,178.4 329.7,177.2 330.5,176.1 331.8,176.2 333.2,176.3 334.2,177.3 335.0,177.5 335.7,177.5 336.8,176.5 337.7,176.5 338.9,176.7 340.1,176.7 341.4,176.0 342.4,176.4 343.5,176.2 344.6,176.0 345.7,175.5 346.8,175.9 347.9,175.1 349.0,175.5 350.1,174.7 351.2,174.6 352.3,174.5 353.4,175.3 354.6,174.7 355.8,175.1 356.9,175.5 357.7,175.8 358.9,176.8 359.5,178.2 359.9,179.2 360.2,180.4 360.5,181.6 360.8,182.7 361.3,184.3 361.8,185.8 362.3,186.4 362.7,185.8 363.1,184.5 363.5,183.1 364.0,181.8 364.6,180.8 365.2,179.7 365.8,178.9 366.4,178.5 367.0,178.6 367.6,179.3 368.2,180.9 368.4,181.6 368.5,182.3 368.7,183.2 368.9,184.1 369.0,185.1 369.2,186.2 369.3,187.3 369.5,188.4 369.7,189.5 369.8,190.7 370.0,191.8 370.1,192.8 370.3,193.8 370.4,194.9 370.6,196.0 370.7,197.1 370.8,198.2 371.0,199.4 371.1,200.5 371.3,201.6 371.4,202.6 371.5,203.6 371.7,204.6 371.8,205.5 372.0,207.0 372.2,208.5 372.4,210.1 372.6,211.5 372.7,212.7 372.9,213.6 373.1,214.2 373.3,214.2 373.4,213.9 373.6,213.4 373.7,212.6 373.9,211.7 374.0,210.6 374.2,209.5 374.3,208.2 374.5,206.9 374.6,205.5 374.8,204.2 374.9,203.0 375.1,201.8 375.2,200.8 375.4,199.7 375.6,198.6 375.7,197.5 375.9,196.3 376.1,195.1 376.2,193.9 376.4,192.8 376.6,191.7 376.7,190.7 376.9,189.7 377.0,188.8 377.2,188.0 377.3,187.3 377.7,185.1 378.1,184.2 378.5,184.5 378.7,185.0 378.9,185.9 379.1,187.1 379.4,188.4 379.6,189.7 379.9,190.9 380.1,191.9 380.4,192.7 381.5,192.9 382.7,193.6 382.9,194.3 383.1,195.3 383.4,196.4 383.6,197.7 383.9,199.1 384.1,200.5 384.4,201.9 384.6,203.1 384.9,204.2 385.1,205.1 385.3,205.7 385.5,206.0 385.7,205.9 385.9,205.3 386.1,204.5 386.3,203.4 386.5,202.1 386.7,200.7 386.8,199.2 387.0,197.8 387.1,196.6 387.3,195.5 387.5,194.3 387.7,192.9 387.8,191.6 388.0,190.4 388.1,189.2 388.3,188.2 388.5,187.4 388.7,186.9 389.4,186.9 390.1,188.2 390.9,190.0 391.2,190.8 391.4,191.9 391.7,193.1 391.9,194.4 392.2,195.6 392.5,196.7 392.8,197.6 393.1,198.2 394.1,198.6 395.3,198.0 396.4,196.4 396.7,195.7 397.1,194.8 397.4,193.7 397.7,192.5 398.1,191.3 398.4,190.1 398.7,188.9 399.0,187.9 399.3,187.0 399.6,186.4 401.5,186.4 402.1,185.5 402.8,184.3 403.6,183.6 404.7,183.9 405.8,184.7 406.9,185.5 408.1,186.6 409.1,186.9 409.7,186.0 410.2,184.6 410.8,183.3 411.3,182.7 411.8,183.3 412.3,184.7 412.7,186.2 413.1,187.3 414.5,187.6 415.0,188.6 415.5,190.0 416.1,191.2 416.7,191.8 417.3,191.2 417.9,189.8 418.6,188.4 419.1,187.6 419.8,188.0 420.5,190.0 420.7,190.8 420.9,191.8 421.2,192.9 421.4,194.1 421.7,195.4 422.0,196.6 422.2,197.6 422.5,198.5 422.7,199.1 423.6,199.6 424.5,198.2 424.8,197.4 425.1,196.4 425.4,195.1 425.8,193.9 426.1,192.7 426.4,191.8 427.0,190.6 427.6,189.7 428.2,188.7 428.6,187.7 428.9,186.5 429.3,185.3 429.6,184.3 430.0,184.0 430.4,184.4 430.7,185.4 431.1,186.7 431.4,188.0 431.8,189.1 432.2,190.0 432.7,190.7 433.1,191.4 433.6,192.7 433.8,193.5 434.0,194.5 434.2,195.6 434.4,196.8 434.6,198.0 434.8,199.2 435.0,200.2 435.3,201.1 435.5,201.8 436.8,202.4 438.2,202.7 438.7,203.5 439.1,204.7 439.6,206.0 440.1,207.3 440.5,208.4 440.9,209.1 441.8,209.6 442.7,208.2 443.0,207.5 443.3,206.6 443.7,205.5 444.1,204.4 444.4,203.2 444.8,202.0 445.2,200.9 445.5,200.0 446.0,198.7 446.5,197.6 446.9,196.5 447.4,195.5 447.8,194.5 448.3,193.4 448.7,192.4 449.2,191.4 449.6,190.5 450.0,190.0 450.9,190.5 451.8,190.9 452.1,190.2 452.5,189.0 452.8,187.7 453.2,186.5 453.6,185.5 454.5,184.2 455.4,183.3 456.4,183.1 456.9,183.7 457.5,184.9 458.0,186.1 458.6,187.2 459.1,187.6 459.6,187.2 460.2,186.3 460.7,185.1 461.3,183.9 461.8,182.7 462.3,181.8 462.7,180.8 463.2,179.9 463.7,178.9 464.1,178.1 464.5,177.3 465.2,175.9 465.8,174.7 466.4,174.5 466.8,175.1 467.2,176.2 467.5,177.5 467.9,178.9 468.2,180.0 468.5,181.4 468.7,182.6 469.1,183.6 469.9,184.3 470.9,184.7 471.8,185.5 472.3,186.4 472.7,187.6 473.2,188.9 473.7,189.8 474.2,190.0 474.6,189.6 475.0,188.9 475.5,187.9 476.0,186.8 476.4,185.6 476.9,184.5 477.3,183.6 477.9,182.5 478.4,181.5 478.9,180.5 479.4,179.7 480.0,179.1 481.2,178.5 482.5,178.3 483.6,178.5 484.3,179.3 484.9,180.5 485.5,181.5 486.9,182.0 488.2,182.2 489.2,182.6 490.0,183.6 490.4,184.5 490.7,185.8 491.1,187.1 491.4,188.2 491.8,188.7 492.4,188.3 492.9,187.0 493.6,185.5 494.1,184.6 494.7,183.5 495.3,182.5 495.9,181.5 496.4,180.9 498.2,180.9 499.0,180.2 499.9,179.3 500.9,178.7 502.1,178.5 503.4,178.6 504.5,179.1 505.1,179.7 505.6,180.6 506.0,181.6 506.4,182.7 506.8,183.7 507.1,184.9 507.4,186.1 507.8,187.1 508.2,187.8 509.4,187.9 510.9,186.9 511.7,186.3 512.6,185.5 513.5,184.6 514.5,183.6 515.2,182.9 516.0,182.1 516.8,181.3 517.6,180.4 518.4,179.7 519.1,179.1 520.1,178.5 521.0,178.0 521.9,177.7 522.7,177.3 523.7,176.6 524.6,175.9 525.5,175.5 526.8,175.6 527.8,176.0" fill="none" stroke="#0000ff" stroke-width="1.6" stroke-linejoin="round" stroke-linecap="round"/>
<polyline points="80.1,111.3 80.9,111.3 81.9,111.3 83.2,111.6 84.6,111.8 85.9,111.5 86.8,111.6 87.8,110.7 88.8,111.0 89.9,110.7 90.9,110.4 92.0,110.8 93.2,110.2 94.2,110.8 95.2,110.2 96.3,110.4 97.4,110.6 98.5,110.6 99.5,110.0 100.6,110.6 101.5,110.1 102.3,110.4 103.7,110.3 104.8,111.0 105.8,110.9 106.8,111.0 108.0,111.3 109.2,111.1 110.3,111.0 111.4,110.9 112.6,111.1 113.8,111.4 115.0,111.7 116.1,111.6 117.2,112.0 118.4,112.2 119.5,112.7 120.5,113.3 121.4,113.9 122.3,114.6 123.2,115.5 123.9,116.3 124.6,117.1 125.4,118.0 126.1,119.0 126.8,120.0 127.4,120.9 128.0,121.8 128.6,122.7 129.2,123.6 129.8,124.6 130.5,125.5 131.1,126.3 131.7,127.1 132.3,127.9 133.0,128.7 133.6,129.5 134.3,130.2 135.0,130.9 135.8,131.7 136.7,132.4 137.6,133.1 138.5,133.8 139.5,134.3 140.5,134.8 141.4,135.1 142.3,135.3 143.3,135.4 144.3,135.4 145.3,135.5 146.5,135.5 147.7,135.6 148.7,135.7 149.8,135.7 150.9,135.7 152.1,135.7 153.4,135.8 154.6,135.8 155.7,135.8 156.8,135.9 157.8,135.9 158.6,136.0 160.4,136.4 161.5,136.8 162.3,137.5 163.0,138.2 163.6,139.1 164.1,140.6 164.3,141.4 164.6,142.4 164.8,143.4 165.0,144.5 165.3,145.7 165.5,146.9 165.7,148.0 165.9,149.0 166.1,150.2 166.3,151.6 166.5,153.0 166.7,154.3 166.9,155.3 167.1,156.1 167.3,156.3 167.5,156.0 167.8,155.2 168.1,154.1 168.3,152.8 168.6,151.4 168.9,149.9 169.2,148.6 169.4,147.6 169.7,146.5 169.9,145.4 170.1,144.3 170.4,143.1 170.6,142.0 170.9,141.0 171.1,140.0 171.4,139.1 171.8,137.9 172.3,136.8 172.7,135.9 173.2,135.0 173.7,134.3 174.1,133.6 174.8,132.7 175.5,132.2 176.4,131.5 177.2,130.9 178.1,130.2 179.1,129.5 180.0,128.8 180.9,128.2 181.9,127.5 182.8,126.8 183.6,126.1 184.5,125.5 185.4,124.9 186.3,124.2 187.2,123.7 188.2,123.3 189.3,123.2 190.4,123.2 191.6,123.4 192.7,123.6 193.8,124.0 194.9,124.5 195.9,124.9 196.9,124.9 197.7,124.3 198.5,123.2 199.2,122.1 200.0,121.3 201.2,120.7 202.4,120.4 203.6,120.4 204.6,120.4 205.6,120.7 206.4,121.8 206.7,122.5 206.9,123.3 207.1,124.2 207.4,125.2 207.6,126.3 207.8,127.5 208.0,128.7 208.2,130.0 208.3,130.9 208.5,131.9 208.6,133.0 208.8,134.1 208.9,135.2 209.1,136.4 209.2,137.6 209.4,138.7 209.5,139.8 209.7,140.8 209.8,141.8 210.0,142.7 210.3,144.1 210.6,145.5 210.9,146.7 211.2,147.8 211.5,148.8 211.8,149.5 212.2,150.0 213.2,149.9 214.4,148.7 215.5,147.8 216.6,147.5 217.7,147.4 218.7,147.8 219.3,148.8 219.9,150.3 220.4,151.5 220.9,151.8 221.2,151.4 221.4,150.6 221.7,149.7 221.9,148.5 222.2,147.2 222.4,145.8 222.7,144.5 222.9,143.6 223.0,142.7 223.2,141.7 223.3,140.6 223.5,139.5 223.6,138.4 223.8,137.4 223.9,136.3 224.1,135.4 224.3,134.4 224.5,133.6 224.9,132.3 225.3,131.1 225.7,130.1 226.2,129.1 226.7,128.2 227.3,127.3 227.9,126.4 228.6,125.6 229.4,124.7 230.2,124.0 231.0,123.3 231.8,122.7 232.8,122.1 233.8,121.7 234.9,121.4 236.1,121.0 237.3,120.5 238.1,120.1 238.9,119.6 239.8,119.2 240.7,118.6 241.6,118.2 242.5,117.7 243.5,117.3 244.5,116.9 245.4,116.6 246.4,116.4 247.3,116.3 248.3,116.1 249.3,116.0 250.4,115.9 251.4,115.8 252.5,115.6 253.6,115.5 254.6,115.4 255.7,115.2 256.8,115.1 257.9,114.9 259.0,114.8 260.1,114.7 261.3,114.5 262.4,114.4 263.5,114.3 264.5,114.2 265.6,114.1 266.8,114.0 267.9,113.9 269.0,114.0 270.1,113.7 271.1,114.0 272.1,113.4 273.1,114.0 274.1,113.6 275.3,113.8 276.5,113.6 277.6,113.0 278.7,113.3 279.7,113.2 280.6,112.9 281.4,113.5 282.8,113.5 283.8,114.1 284.6,113.8 285.8,114.0 286.8,113.0 287.7,113.9 288.6,114.2 289.5,113.3 290.4,113.3 291.4,112.9 292.5,113.0 294.1,113.0 294.9,112.4 296.0,112.5 297.1,112.7 298.4,111.9 299.5,111.8 300.6,111.7 301.4,111.6 302.7,111.2 303.4,110.2 304.1,110.1 305.3,111.0 306.5,110.9 307.2,110.7 307.9,109.4 308.6,109.4 309.7,109.1 310.8,109.4 311.4,110.7 311.9,111.2 312.6,112.1 313.6,112.5 314.7,111.9 315.9,111.8 317.1,111.2 318.3,111.6 319.5,112.1 320.7,111.9 322.0,110.8 323.2,110.3 324.3,110.1 325.4,109.6 326.5,109.5 327.5,110.0 328.5,110.5 329.5,110.1 330.7,110.3 331.9,110.4 333.2,110.0 334.3,110.7 335.4,110.4 336.6,111.1 337.7,110.7 339.0,111.0 340.2,110.8 341.4,110.4 342.5,110.2 343.7,110.2 345.0,110.0 346.0,109.4 347.0,109.6 348.2,109.8 349.3,109.1 350.5,109.5 351.5,108.8 352.7,109.0 353.8,109.0 355.0,109.1 356.0,109.8 356.8,109.5 357.9,109.9 358.6,110.6 359.2,111.5 359.5,112.3 359.8,113.2 360.0,114.2 360.2,115.3 360.5,116.4 360.8,117.5 361.1,118.8 361.4,120.2 361.7,121.4 362.0,122.3 362.3,122.7 362.6,122.3 363.0,121.3 363.3,119.9 363.6,118.5 364.0,117.3 364.6,116.0 365.2,114.7 365.8,113.7 366.4,113.1 367.0,113.1 367.6,113.8 368.2,115.5 368.4,116.2 368.5,116.9 368.7,117.7 368.9,118.6 369.0,119.6 369.2,120.6 369.3,121.7 369.5,122.8 369.7,124.0 369.8,125.2 370.0,126.4 370.1,127.3 370.2,128.2 370.3,129.2 370.4,130.2 370.6,131.2 370.7,132.3 370.8,133.4 370.9,134.5 371.0,135.6 371.1,136.7 371.2,137.7 371.4,138.8 371.5,139.8 371.6,140.8 371.7,141.8 371.8,142.7 371.9,143.9 372.1,145.3 372.2,146.7 372.4,148.0 372.5,149.4 372.7,150.7 372.8,151.9 373.0,152.9 373.1,153.8 373.3,154.4 373.4,154.8 373.6,154.9 373.7,154.7 373.9,154.3 374.0,153.7 374.1,152.9 374.3,151.9 374.4,150.9 374.6,149.7 374.7,148.4 374.8,147.2 375.0,145.8 375.1,144.5 375.2,143.3 375.4,142.0 375.5,140.9 375.6,139.9 375.7,138.9 375.8,137.8 376.0,136.7 376.1,135.6 376.2,134.4 376.3,133.3 376.4,132.1 376.5,131.0 376.7,129.9 376.8,128.9 376.9,127.8 377.0,126.9 377.1,126.0 377.2,125.2 377.3,124.5 377.6,122.6 377.9,121.3 378.1,120.4 378.4,119.8 378.7,119.6 379.1,120.0 379.5,121.2 379.9,122.5 380.4,123.6 381.6,124.2 382.7,125.5 382.9,126.2 383.1,126.9 383.2,127.8 383.4,128.8 383.5,129.8 383.7,130.9 383.8,132.0 383.9,133.2 384.1,134.4 384.2,135.5 384.3,136.5 384.4,137.7 384.5,139.0 384.6,140.3 384.8,141.6 384.9,142.9 385.0,144.2 385.1,145.3 385.2,146.4 385.3,147.2 385.4,147.8 385.5,148.2 385.7,148.3 385.9,147.8 386.1,146.8 386.3,145.6 386.5,144.1 386.7,142.5 386.9,140.9 387.0,140.1 387.1,139.1 387.2,138.1 387.3,137.0 387.4,135.9 387.4,134.7 387.5,133.5 387.6,132.3 387.7,131.2 387.8,130.1 387.9,129.0 388.0,128.0 388.1,127.2 388.2,126.4 388.5,124.7 388.9,123.4 389.3,122.5 389.6,121.8 390.0,121.3 391.8,121.8 392.0,122.5 392.2,123.6 392.4,124.8 392.6,126.1 392.8,127.3 393.0,128.3 393.3,129.1 394.2,130.2 395.3,130.6 396.4,130.0 396.8,129.4 397.1,128.5 397.5,127.5 397.9,126.3 398.3,125.1 398.6,123.9 399.0,122.8 399.3,121.9 399.6,121.3 401.5,121.8 401.9,121.0 402.3,119.8 402.7,118.5 403.1,117.4 403.6,116.9 404.2,117.2 404.9,118.0 405.6,119.0 406.3,120.1 406.9,120.9 408.1,122.4 409.1,122.7 409.5,122.1 409.8,121.0 410.2,119.8 410.6,118.5 411.0,117.5 411.3,116.9 412.1,117.3 413.1,119.1 413.6,119.9 414.1,120.8 414.7,121.9 415.3,122.9 415.9,123.7 416.4,124.2 417.4,123.4 418.5,122.7 418.9,123.3 419.4,124.1 419.9,125.2 420.4,126.4 420.9,127.5 421.4,128.4 421.8,129.1 423.6,129.6 424.3,128.5 425.0,127.0 425.8,126.4 426.3,126.9 426.8,128.0 427.3,129.3 427.8,130.4 428.2,130.9 428.7,130.4 429.1,129.2 429.5,128.0 430.0,127.3 430.9,127.4 431.8,128.2 432.7,129.6 433.0,130.5 433.3,131.6 433.5,132.8 433.7,134.1 433.9,135.3 434.2,136.4 434.5,137.3 435.4,138.5 436.3,139.1 437.3,140.0 437.7,140.7 438.2,141.6 438.6,142.5 439.0,143.5 439.5,144.5 440.0,145.5 440.5,146.4 441.0,147.5 441.5,148.5 442.0,149.6 442.5,150.5 443.1,151.3 443.6,151.8 444.9,152.2 446.1,151.8 447.3,150.9 447.8,150.3 448.3,149.6 448.7,148.7 449.1,147.7 449.6,146.7 450.0,145.5 450.3,144.7 450.6,143.7 450.9,142.7 451.2,141.7 451.6,140.6 451.9,139.6 452.2,138.5 452.4,137.4 452.7,136.4 452.9,135.4 453.2,134.3 453.4,133.2 453.6,132.1 453.7,131.0 453.9,130.0 454.1,129.0 454.3,128.1 454.5,127.3 454.9,125.9 455.3,124.7 455.6,123.6 456.1,122.9 456.5,122.6 457.0,123.1 457.5,124.2 458.1,125.6 458.6,126.8 459.1,127.3 459.6,127.0 460.0,126.3 460.4,125.2 460.9,124.0 461.3,122.7 461.6,121.8 461.9,120.8 462.1,119.8 462.4,118.7 462.7,117.5 463.0,116.4 463.3,115.4 463.6,114.5 464.0,113.3 464.5,112.1 465.0,111.0 465.5,110.1 466.0,109.4 466.4,109.1 466.9,109.5 467.4,110.8 467.8,112.3 468.2,113.6 468.5,115.0 468.7,116.2 469.1,117.3 469.9,117.8 470.8,118.1 471.8,119.1 472.1,119.9 472.4,120.9 472.7,122.1 473.0,123.4 473.3,124.7 473.6,125.9 473.9,126.8 474.2,127.5 474.5,127.8 474.8,127.6 475.1,126.9 475.4,125.9 475.7,124.7 476.0,123.3 476.3,122.0 476.6,120.9 476.9,120.0 477.4,118.8 477.9,118.0 478.5,117.3 479.1,116.4 479.6,115.6 480.2,114.6 480.9,113.6 481.5,112.7 482.1,111.9 482.7,111.5 483.7,111.6 484.5,112.5 485.5,113.3 486.7,113.6 488.0,113.9 489.1,114.5 489.6,115.5 489.9,116.7 490.1,118.0 490.4,119.1 490.8,120.4 491.3,121.6 491.8,121.8 492.2,121.2 492.6,120.2 493.1,119.0 493.6,117.6 494.2,116.4 494.7,115.4 495.3,114.3 495.9,113.3 496.5,112.3 497.1,111.4 497.6,110.9 498.8,111.0 500.0,111.8 501.4,111.6 502.7,111.5 503.6,112.4 504.5,113.3 506.4,112.7 506.7,113.4 507.0,114.4 507.2,115.6 507.5,116.8 507.8,117.8 508.2,118.5 509.6,118.7 510.9,118.2 511.8,119.0 512.7,119.1 513.1,118.5 513.5,117.5 514.0,116.3 514.5,115.1 515.0,114.0 515.5,113.3 516.6,112.5 517.7,112.3 518.7,112.7 519.2,113.6 519.7,115.1 520.1,116.6 520.5,117.8 520.9,118.2 521.2,117.8 521.4,117.0 521.6,115.8 521.9,114.5 522.1,113.2 522.4,111.9 522.7,110.9 523.2,109.7 523.8,108.4 524.5,107.4 525.0,106.5 525.5,106.0 526.0,106.2 526.4,107.8 526.7,108.8 527.0,110.0 527.3,111.3 527.6,112.5 527.8,113.3" fill="none" stroke="#ff00ff" stroke-width="1.6" stroke-linejoin="round" stroke-linecap="round"/>
<polyline points="80.1,44.1 80.8,44.3 81.7,44.6 82.7,44.9 83.9,45.2 85.1,45.6 86.4,45.9 87.7,46.2 88.6,46.4 89.6,46.6 90.6,46.9 91.7,47.1 92.7,47.4 93.8,47.6 94.8,47.8 95.8,47.9 96.7,48.0 97.6,48.1 98.9,48.1 100.1,47.9 101.2,47.6 102.3,47.3 103.2,46.9 104.1,46.6 105.3,46.0 106.3,45.2 107.2,44.6 108.0,44.3 109.0,44.8 109.9,45.8 110.7,46.3 111.5,45.8 112.3,44.9 113.2,43.8 113.9,43.1 114.8,42.3 115.7,41.5 116.5,40.9 117.3,40.6 118.1,41.0 118.9,41.9 119.6,43.0 120.2,43.6 121.2,43.4 122.2,42.9 123.4,43.0 124.9,43.8 125.5,44.3 126.3,44.9 127.0,45.6 127.8,46.4 128.7,47.2 129.5,47.9 130.2,48.5 131.0,49.2 131.8,49.9 132.7,50.6 133.5,51.3 134.3,51.9 135.0,52.5 135.9,53.2 136.7,53.9 137.5,54.5 138.4,55.0 139.5,55.3 140.3,55.4 141.2,55.3 142.1,55.2 143.1,55.0 144.1,54.8 145.2,54.6 146.4,54.4 147.7,54.2 148.6,54.1 149.7,53.9 150.8,53.7 152.0,53.5 153.2,53.3 154.4,53.1 155.6,53.0 156.7,52.8 157.8,52.7 158.8,52.7 159.7,52.6 160.5,52.7 161.8,53.0 162.7,53.5 163.2,54.2 163.6,55.1 164.1,56.4 164.3,57.1 164.5,57.9 164.7,58.8 164.9,59.8 165.0,60.8 165.2,61.8 165.3,62.9 165.5,64.0 165.6,65.1 165.7,66.2 165.9,67.3 166.0,68.4 166.2,69.5 166.3,70.8 166.5,72.1 166.6,73.4 166.8,74.7 166.9,75.9 167.1,77.0 167.2,78.1 167.4,78.9 167.5,79.6 167.7,80.0 168.0,80.2 168.4,79.5 168.7,78.2 169.1,76.5 169.5,74.5 169.7,73.7 169.8,72.8 170.0,71.9 170.2,70.8 170.4,69.7 170.6,68.5 170.8,67.4 171.1,66.2 171.3,65.0 171.5,63.9 171.7,62.8 171.9,61.8 172.1,60.8 172.3,60.0 172.7,58.5 173.1,57.3 173.4,56.1 173.8,55.1 174.2,54.2 174.6,53.4 175.0,52.7 175.7,51.7 176.5,51.0 177.3,50.5 178.2,50.0 179.3,49.5 180.4,49.0 181.6,48.6 182.7,48.2 184.0,47.6 185.3,47.0 186.4,46.7 187.8,46.7 189.1,47.3 189.9,47.9 190.8,48.7 191.7,49.6 192.7,50.5 193.6,51.3 194.5,52.1 195.5,52.9 196.4,53.6 197.3,54.0 198.6,53.8 199.7,53.1 200.9,52.7 202.1,52.8 203.4,53.2 204.5,54.0 205.1,54.7 205.7,55.5 206.3,56.5 206.8,57.7 207.3,59.1 207.5,59.9 207.7,60.7 207.9,61.6 208.0,62.6 208.2,63.6 208.4,64.6 208.5,65.7 208.7,66.8 208.9,67.9 209.1,69.1 209.3,70.1 209.5,71.1 209.6,72.3 209.8,73.5 210.0,74.7 210.2,75.9 210.4,77.1 210.6,78.3 210.9,79.4 211.1,80.4 211.3,81.3 211.6,82.1 211.8,82.7 213.0,83.7 214.3,83.2 215.5,82.7 216.6,82.7 217.7,82.9 218.7,83.3 219.3,84.2 219.9,85.4 220.4,86.5 220.9,86.9 221.5,86.4 222.0,85.4 222.6,84.1 223.1,82.7 223.4,81.8 223.5,80.7 223.7,79.6 223.9,78.5 224.1,77.4 224.5,76.4 225.1,75.3 225.8,74.3 226.6,73.4 227.4,72.6 228.2,71.8 228.9,71.0 229.6,70.3 230.4,69.7 231.8,69.1 232.5,68.9 233.3,68.7 234.2,68.4 235.2,68.2 236.3,68.0 237.3,67.8 238.4,67.6 239.5,67.4 240.6,67.2 241.7,67.1 242.7,66.9 243.8,66.7 244.9,66.6 246.0,66.4 247.0,66.3 248.1,66.2 249.2,66.1 250.3,65.9 251.4,65.8 252.5,65.7 253.6,65.5 254.6,65.3 255.7,65.2 256.8,65.0 257.9,64.8 259.0,64.6 260.1,64.5 261.1,64.3 262.2,64.1 263.2,63.9 264.1,63.8 265.0,63.6 266.3,63.4 267.4,63.2 268.4,63.0 269.4,62.8 270.3,62.6 271.3,62.4 272.3,62.2 273.4,61.9 274.5,61.6 275.7,61.3 276.8,61.0 277.8,60.7 278.7,60.5 279.5,59.6 280.6,58.9 281.2,58.3 281.7,57.1 282.4,56.5 283.0,55.2 283.7,54.5 284.8,54.8 285.9,56.1 287.7,55.2 288.7,55.5 289.8,55.4 291.1,55.9 292.3,55.7 293.2,55.4 294.0,54.9 294.9,54.4 295.8,53.5 296.8,53.0 297.8,52.7 298.9,52.6 300.1,52.2 301.3,51.9 302.3,51.5 303.2,51.2 304.3,49.9 305.1,49.6 305.9,49.2 306.8,48.1 307.7,48.1 308.6,47.3 309.5,46.6 310.8,46.5 312.3,46.9 313.2,46.7 314.3,46.5 315.5,46.1 316.6,45.6 317.7,45.5 319.0,45.4 320.2,45.1 321.3,44.7 322.3,44.4 323.0,43.2 323.6,41.6 324.1,40.5 324.5,39.6 325.0,39.4 325.6,40.2 326.2,41.9 326.8,42.4 328.0,43.4 329.5,43.7 330.7,43.3 332.0,42.5 333.2,42.2 334.1,43.1 334.8,43.8 335.9,43.7 336.8,43.9 337.8,44.1 338.9,44.0 340.1,44.3 341.4,43.8 342.4,44.2 343.4,44.7 344.5,44.7 345.5,44.4 346.6,45.3 347.6,45.5 348.6,45.2 349.8,46.0 351.0,46.3 352.1,46.4 353.1,47.5 354.1,47.9 355.1,48.4 356.1,48.3 357.0,49.3 357.9,49.5 358.6,50.0 359.3,50.9 359.7,52.0 360.1,53.2 360.5,54.5 360.8,55.6 361.2,56.9 361.5,58.2 361.8,59.4 362.2,60.4 362.5,60.9 363.0,60.7 363.5,59.6 364.0,58.3 364.5,57.3 365.5,56.0 366.4,55.5 367.0,55.8 367.6,56.7 368.2,58.2 368.4,58.9 368.6,59.8 368.8,60.7 369.0,61.7 369.2,62.8 369.4,63.9 369.6,65.0 369.8,66.2 370.0,67.3 370.2,68.2 370.3,69.2 370.5,70.1 370.7,71.1 370.8,72.1 371.0,73.1 371.1,74.2 371.3,75.2 371.5,76.2 371.6,77.2 371.8,78.2 372.0,79.3 372.1,80.5 372.3,81.8 372.5,83.1 372.6,84.4 372.8,85.6 372.9,86.7 373.1,87.7 373.3,88.4 373.4,88.9 373.6,89.1 373.8,88.9 373.9,88.4 374.1,87.7 374.3,86.7 374.5,85.6 374.6,84.4 374.8,83.1 375.0,81.8 375.2,80.5 375.3,79.3 375.5,78.2 375.7,77.2 375.8,76.1 376.0,75.0 376.2,73.9 376.4,72.8 376.5,71.8 376.7,70.7 376.9,69.8 377.0,68.8 377.2,68.0 377.3,67.3 377.7,65.2 378.1,63.9 378.5,63.6 378.8,64.2 379.2,65.4 379.6,66.8 380.0,68.1 380.4,69.1 381.5,69.0 382.7,70.0 382.9,70.7 383.1,71.6 383.3,72.6 383.5,73.9 383.7,75.2 383.9,76.5 384.1,77.9 384.3,79.3 384.6,80.6 384.8,81.7 385.0,82.8 385.1,83.6 385.3,84.2 385.5,84.5 385.7,84.5 385.9,84.0 386.1,83.2 386.3,82.1 386.5,80.8 386.7,79.5 386.8,78.0 387.0,76.7 387.1,75.5 387.3,74.5 387.5,73.3 387.7,72.1 387.9,70.9 388.1,69.8 388.3,68.9 388.5,68.1 388.7,67.6 389.8,67.4 390.9,68.7 391.2,69.5 391.5,70.5 391.7,71.7 392.0,72.9 392.3,73.9 392.7,74.5 393.8,74.9 395.2,74.5 396.4,73.6 396.9,72.8 397.4,71.7 397.9,70.5 398.3,69.3 398.7,68.3 399.1,67.6 400.9,68.2 401.5,67.4 402.1,66.3 402.8,65.1 403.6,64.5 404.5,64.6 405.5,65.2 406.5,65.9 407.3,66.4 408.3,67.2 409.1,67.3 409.6,66.5 410.2,65.3 410.7,64.2 411.3,63.6 412.0,64.1 412.8,65.2 413.6,66.4 414.5,67.5 415.5,68.6 416.4,69.1 417.1,68.4 417.8,67.0 418.5,66.4 419.1,66.8 419.7,67.8 420.3,68.9 420.9,70.0 421.4,71.1 421.8,72.4 422.2,73.6 422.7,74.2 423.6,74.0 424.6,73.1 425.5,72.4 426.6,72.6 427.6,72.7 428.4,72.0 429.2,71.0 430.0,70.5 430.9,70.8 431.9,71.6 432.7,72.7 433.1,73.6 433.4,74.8 433.8,76.0 434.1,77.2 434.5,78.2 435.4,79.2 436.3,80.0 437.3,80.9 437.8,81.7 438.3,82.6 438.9,83.6 439.4,84.6 440.0,85.5 440.7,86.5 441.4,87.6 442.1,88.6 442.9,89.4 443.6,90.0 444.9,90.3 446.1,89.9 447.3,89.1 447.8,88.4 448.3,87.6 448.8,86.6 449.2,85.6 449.6,84.6 450.0,83.6 450.4,82.6 450.7,81.7 451.1,80.8 451.4,79.6 451.8,78.2 452.0,77.4 452.2,76.4 452.5,75.4 452.7,74.3 453.0,73.1 453.3,72.0 453.5,70.9 453.8,69.8 454.0,68.8 454.3,67.9 454.5,67.1 455.0,65.4 455.4,64.2 455.9,63.5 456.4,63.1 457.3,63.7 458.2,65.0 459.1,65.6 459.7,65.2 460.2,64.4 460.7,63.3 461.3,61.8 461.6,61.0 461.9,60.1 462.2,59.0 462.6,57.9 462.9,56.8 463.3,55.6 463.6,54.6 463.9,53.6 464.2,52.7 464.7,51.3 465.1,49.9 465.6,48.7 466.0,47.9 466.4,47.6 466.8,48.0 467.2,49.0 467.6,50.3 467.9,51.6 468.2,52.7 468.5,54.1 468.7,55.4 469.1,56.4 469.9,56.8 470.8,57.0 471.8,57.8 472.2,58.6 472.6,59.7 473.0,61.0 473.3,62.3 473.7,63.4 474.1,64.2 474.5,64.5 475.0,64.2 475.4,63.3 475.9,62.1 476.4,60.7 476.8,59.4 477.3,58.2 477.7,57.2 478.2,56.3 478.6,55.4 479.0,54.5 479.5,53.6 480.0,52.7 480.6,51.7 481.2,50.6 481.8,49.5 482.4,48.6 483.0,47.8 483.6,47.3 484.6,47.4 485.5,48.3 486.4,49.1 487.8,49.4 489.1,50.0 489.5,50.9 489.8,52.1 490.1,53.4 490.4,54.5 490.8,56.1 491.2,57.5 491.8,57.8 492.1,57.3 492.5,56.5 492.8,55.5 493.2,54.3 493.7,53.1 494.1,51.9 494.5,50.9 495.0,49.8 495.6,48.6 496.1,47.5 496.7,46.4 497.2,45.6 497.6,45.1 498.4,45.7 499.1,46.7 499.9,46.1 500.9,45.0 501.8,44.2 503.2,43.5 504.5,43.6 505.0,44.1 505.5,44.9 506.0,46.0 506.4,47.3 506.6,48.2 506.8,49.2 507.0,50.4 507.2,51.6 507.5,52.8 507.7,53.9 507.9,54.8 508.2,55.5 509.4,56.3 510.9,55.5 511.6,54.9 512.4,54.0 513.2,53.0 514.0,52.0 514.8,51.1 515.5,50.5 517.0,50.2 518.2,50.9 519.1,51.9 520.1,53.0 520.9,53.3 521.2,52.8 521.5,51.9 521.8,50.7 522.1,49.5 522.4,48.3 522.7,47.3 523.2,46.2 523.8,45.1 524.4,44.1 525.0,43.3 525.5,42.7 526.9,43.3 527.2,42.5 527.4,41.2 527.6,40.0 527.8,39.1" fill="none" stroke="#0a8a0a" stroke-width="1.6" stroke-linejoin="round" stroke-linecap="round"/>
<text transform="translate(61.5,35.3) " font-family='"Liberation Sans", Arial, sans-serif' font-size="15" fill="#0a8a0a">(e) PSF/Pebax + Mo-ZeY</text>
<text transform="translate(63.3,105.4) " font-family='"Liberation Sans", Arial, sans-serif' font-size="15" fill="#ff00ff">(d) PSF/Pebax + ZeY</text>
<text transform="translate(63.8,172.3) " font-family='"Liberation Sans", Arial, sans-serif' font-size="15" fill="#0000ff">(c) PSF/Pebax</text>
<text transform="translate(62.2,241.7) " font-family='"Liberation Sans", Arial, sans-serif' font-size="15" fill="#ff0000">(b) Pebax</text>
<text transform="translate(60.2,315.3) " font-family='"Liberation Sans", Arial, sans-serif' font-size="15" fill="#000">(a) PSF</text>
<text x="337.4" y="286.3" font-family='"Liberation Sans", Arial, sans-serif' font-size="12" fill="#7c7c7c">1731</text>
<text x="356.2" y="313.1" font-family='"Liberation Sans", Arial, sans-serif' font-size="12" fill="#7c7c7c">1638</text>
<text x="385.5" y="311.3" font-family='"Liberation Sans", Arial, sans-serif' font-size="12" fill="#7c7c7c">1541</text>
<text x="364.1" y="390.5" font-family='"Liberation Sans", Arial, sans-serif' font-size="12" fill="#7c7c7c">1584</text>
<text x="406.8" y="393.5" font-family='"Liberation Sans", Arial, sans-serif' font-size="12" fill="#7c7c7c">1236</text>
<path d="M361.5,268V278 M380.2,363V377 M423.4,372V380" stroke="#d8d8d8" stroke-width="1" fill="none"/>
<path d="M541.6,81.8L526.1,63.3" stroke="#000" stroke-width="2.2" fill="none"/><path d="M520.6,56.8L530.3,62.4L524.4,67.3Z" fill="#000"/>
<path d="M546.0,150.6L530.8,132.7" stroke="#000" stroke-width="2.2" fill="none"/><path d="M525.3,126.2L535.0,131.7L529.2,136.7Z" fill="#000"/>
</svg></body></html>
